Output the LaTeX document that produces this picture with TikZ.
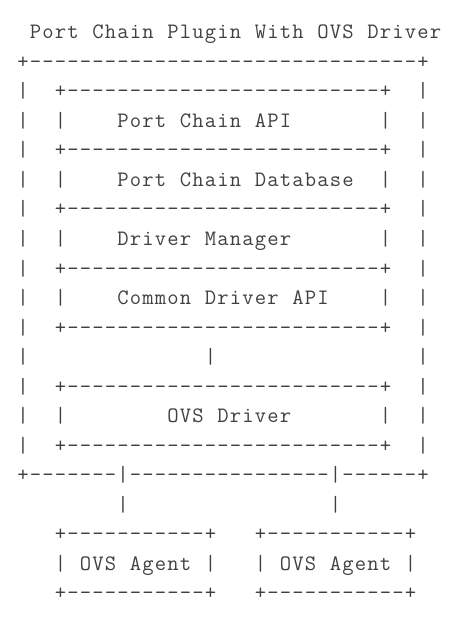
\documentclass[tikz,border=0pt]{standalone}
\def\asciistop{asciistop}
\newcommand\asciirow[1]{\asciiloop#1\asciistop}
\def\asciiloop#1{\ifx#1\asciistop\else\makebox[12.5pt]{\if.#1\else#1\fi}\expandafter\asciiloop\fi}
\tikzset{ascii/.style={anchor=base west, inner sep=0pt, text=black!75, font=\ttfamily\fontsize{22}{26}\selectfont}}
\begin{document}
\begin{tikzpicture}[x=1pt,y=-1pt]
\useasboundingbox[fill=white] (0,0) rectangle (459,617);
\node[ascii] (r0)  at (16.5,39)    {\asciirow{.Port.Chain.Plugin.With.OVS.Driver}};
\node[ascii] (r1)  at (16.5,68.5)  {\asciirow{+-------------------------------+}};
\node[ascii] (r2)  at (16.5,98)    {\asciirow{|..+-------------------------+..|}};
\node[ascii] (r3)  at (16.5,127.5) {\asciirow{|..|....Port.Chain.API.......|..|}};
\node[ascii] (r4)  at (16.5,157)   {\asciirow{|..+-------------------------+..|}};
\node[ascii] (r5)  at (16.5,186.5) {\asciirow{|..|....Port.Chain.Database..|..|}};
\node[ascii] (r6)  at (16.5,216)   {\asciirow{|..+-------------------------+..|}};
\node[ascii] (r7)  at (16.5,245.5) {\asciirow{|..|....Driver.Manager.......|..|}};
\node[ascii] (r8)  at (16.5,275)   {\asciirow{|..+-------------------------+..|}};
\node[ascii] (r9)  at (16.5,304.5) {\asciirow{|..|....Common.Driver.API....|..|}};
\node[ascii] (r10) at (16.5,334)   {\asciirow{|..+-------------------------+..|}};
\node[ascii] (r11) at (16.5,363.5) {\asciirow{|..............|................|}};
\node[ascii] (r12) at (16.5,393)   {\asciirow{|..+-------------------------+..|}};
\node[ascii] (r13) at (16.5,422.5) {\asciirow{|..|........OVS.Driver.......|..|}};
\node[ascii] (r14) at (16.5,452)   {\asciirow{|..+-------------------------+..|}};
\node[ascii] (r15) at (16.5,481.5) {\asciirow{+-------|----------------|------+}};
\node[ascii] (r16) at (16.5,511)   {\asciirow{........|................|}};
\node[ascii] (r17) at (16.5,540.5) {\asciirow{...+-----------+...+-----------+}};
\node[ascii] (r18) at (16.5,570)   {\asciirow{...|.OVS.Agent.|...|.OVS.Agent.|}};
\node[ascii] (r19) at (16.5,599.5) {\asciirow{...+-----------+...+-----------+}};
\end{tikzpicture}
\end{document}
